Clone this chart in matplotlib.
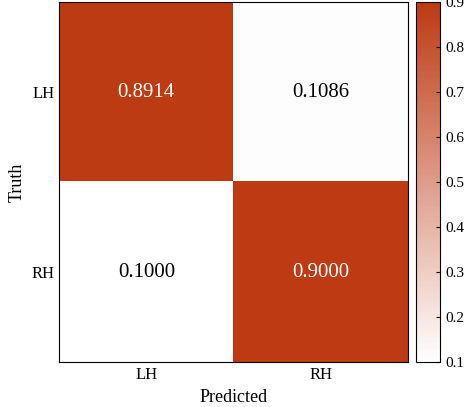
import matplotlib
matplotlib.use("Agg")
import matplotlib.pyplot as plt
import numpy as np
from matplotlib.colors import LinearSegmentedColormap

labels = ["LH", "RH"]
values = np.array([[0.8914, 0.1086], [0.1000, 0.9000]])

plt.rcParams['font.family'] = ['Liberation Serif']
fig = plt.figure(figsize=(4.74, 4.07), dpi=100)
ax = fig.add_axes([0.125, 0.11, 0.735, 0.885])
cax = fig.add_axes([0.877, 0.11, 0.052, 0.885])
cmap = LinearSegmentedColormap.from_list("w2r", ["#ffffff", "#bd3a12"])
im = ax.imshow(values, cmap=cmap, vmin=0.1, vmax=0.9, aspect='auto')
for i in range(2):
    for j in range(2):
        v = values[i, j]
        ax.text(j, i, f"{v:.4f}", ha='center', va='center', fontsize=15,
                color='white' if v > 0.5 else 'black')
ax.set_xticks(range(2), labels, fontsize=12)
ax.set_yticks(range(2), labels, fontsize=12)
ax.set_xlabel("Predicted", fontsize=13)
ax.set_ylabel("Truth", fontsize=13)
ax.tick_params(length=0)
cb = fig.colorbar(im, cax=cax, ticks=np.arange(0.1, 0.91, 0.1))
cb.ax.tick_params(labelsize=11, direction='in', length=3)
cb.ax.set_yticklabels([f"{t:.1f}" for t in np.arange(0.1, 0.91, 0.1)])
fig.savefig("out.png", dpi=100)
